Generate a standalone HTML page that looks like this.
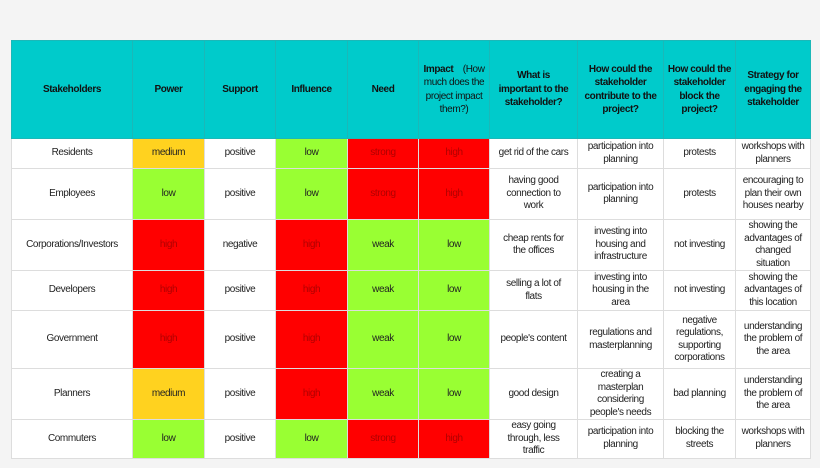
<!DOCTYPE html>
<html><head><meta charset="utf-8"><style>
html,body{margin:0;padding:0;background:#f4f4f4;width:820px;height:468px;overflow:hidden}
table{position:absolute;left:11px;top:40px;border-collapse:collapse;table-layout:fixed;font-family:"Liberation Sans",sans-serif;font-size:10px;letter-spacing:-0.4px;color:#222}
td{border:1px solid #ddd;text-align:center;vertical-align:middle;padding:0;line-height:12.5px;background:#fff;overflow:hidden;white-space:nowrap}
thead td{background:#00cbcb;font-weight:bold;color:#111;border-color:#1bb8b8;line-height:13.5px}
.o{background:#ffd21f}.g{background:#99ff33}.r{background:#ff0000;color:#b00000}
</style></head><body>
<table>
<colgroup><col style="width:121px"><col style="width:72px"><col style="width:71px"><col style="width:72px"><col style="width:71px"><col style="width:71px"><col style="width:88px"><col style="width:86px"><col style="width:72px"><col style="width:75px"></colgroup>
<thead><tr style="height:98px"><td>Stakeholders</td><td>Power</td><td>Support</td><td>Influence</td><td>Need</td><td style="font-weight:normal"><b>Impact</b> &nbsp;&nbsp;&nbsp;(How<br>much does the<br>project impact<br>them?)</td><td>What is<br>important to the<br>stakeholder?</td><td>How could the<br>stakeholder<br>contribute to the<br>project?</td><td>How could the<br>stakeholder<br>block the<br>project?</td><td>Strategy for<br>engaging the<br>stakeholder</td></tr></thead>
<tbody>
<tr style="height:30px"><td>Residents</td><td class="o">medium</td><td>positive</td><td class="g">low</td><td class="r">strong</td><td class="r">high</td><td>get rid of the cars</td><td>participation into<br>planning</td><td>protests</td><td>workshops with<br>planners</td></tr>
<tr style="height:51px"><td>Employees</td><td class="g">low</td><td>positive</td><td class="g">low</td><td class="r">strong</td><td class="r">high</td><td>having good<br>connection to<br>work</td><td>participation into<br>planning</td><td>protests</td><td>encouraging to<br>plan their own<br>houses nearby</td></tr>
<tr style="height:51px"><td>Corporations/Investors</td><td class="r">high</td><td>negative</td><td class="r">high</td><td class="g">weak</td><td class="g">low</td><td>cheap rents for<br>the offices</td><td>investing into<br>housing and<br>infrastructure</td><td>not investing</td><td>showing the<br>advantages of<br>changed<br>situation</td></tr>
<tr style="height:40px"><td>Developers</td><td class="r">high</td><td>positive</td><td class="r">high</td><td class="g">weak</td><td class="g">low</td><td>selling a lot of<br>flats</td><td>investing into<br>housing in the<br>area</td><td>not investing</td><td>showing the<br>advantages of<br>this location</td></tr>
<tr style="height:58px"><td>Government</td><td class="r">high</td><td>positive</td><td class="r">high</td><td class="g">weak</td><td class="g">low</td><td>people's content</td><td>regulations and<br>masterplanning</td><td>negative<br>regulations,<br>supporting<br>corporations</td><td>understanding<br>the problem of<br>the area</td></tr>
<tr style="height:51px"><td>Planners</td><td class="o">medium</td><td>positive</td><td class="r">high</td><td class="g">weak</td><td class="g">low</td><td>good design</td><td>creating a<br>masterplan<br>considering<br>people's needs</td><td>bad planning</td><td>understanding<br>the problem of<br>the area</td></tr>
<tr style="height:38px"><td>Commuters</td><td class="g">low</td><td>positive</td><td class="g">low</td><td class="r">strong</td><td class="r">high</td><td>easy going<br>through, less<br>traffic</td><td>participation into<br>planning</td><td>blocking the<br>streets</td><td>workshops with<br>planners</td></tr>
</tbody></table>
</body></html>
